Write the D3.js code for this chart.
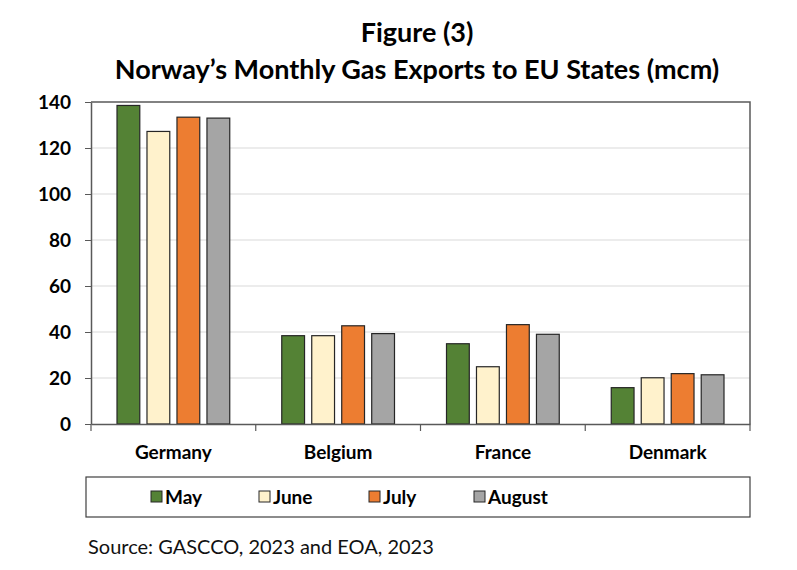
<!DOCTYPE html>
<html>
<head>
<meta charset="utf-8">
<script src="https://cdn.jsdelivr.net/npm/d3@7"></script>
<style>
  body { margin: 0; background: #fff; }
  text { font-family: Lato, "Open Sans", sans-serif; }
</style>
</head>
<body>
<div id="container"></div>
<script>
/* DATA */
const countries = ["Germany", "Belgium", "France", "Denmark"];
const months = ["May", "June", "July", "August"];
const may = [138.5, 38.4, 34.9, 15.8];
const june = [127.2, 38.4, 24.9, 20.1];
const july = [133.4, 42.7, 43.2, 21.9];
const august = [133.0, 39.3, 39.0, 21.4];
const yTicks = [0, 20, 40, 60, 80, 100, 120, 140];
const colors = ["#548235", "#FFF2CC", "#ED7D31", "#A5A5A5"];

/* CONSTANTS */
const width = 797, height = 570,
margin = { top: 102, bottom: 146, left: 91, right: 47 };

const series = [may, june, july, august];
const rows = countries.map((c, i) => ({ country: c, values: series.map(s => s[i]) }));

const svg = d3.select("#container")
 .append("svg")
 .attr("width", width)
 .attr("height", height);

// TITLE
svg.append("text")
 .attr("x", 417).attr("y", 42)
 .attr("text-anchor", "middle")
 .attr("font-size", 27).attr("font-weight", "bold")
 .text("Figure (3)");
svg.append("text")
 .attr("x", 417).attr("y", 79)
 .attr("text-anchor", "middle")
 .attr("font-size", 27).attr("font-weight", "bold")
 .text("Norway’s Monthly Gas Exports to EU States (mcm)");

// SCALES
const x0 = d3.scaleBand()
 .domain(countries)
 .range([margin.left, width - margin.right]);

const x1 = d3.scaleBand()
 .domain(months)
 .range([26, x0.bandwidth() - 26])
 .paddingInner(0.24)
 .paddingOuter(0);

const y = d3.scaleLinear()
 .domain([0, 140])
 .range([height - margin.bottom, margin.top]);

// GRIDLINES
svg.append("g")
 .selectAll("line")
 .data(yTicks.filter(d => d > 0 && d < 140))
 .join("line")
 .attr("x1", margin.left).attr("x2", width - margin.right)
 .attr("y1", d => y(d)).attr("y2", d => y(d))
 .attr("stroke", "#d9d9d9").attr("stroke-width", 1);

// plot frame (top and right)
svg.append("path")
 .attr("d", `M${margin.left},${y(140)}H${width - margin.right}V${y(0)}`)
 .attr("fill", "none").attr("stroke", "#595959").attr("stroke-width", 1.5);

// BARS
svg.append("g")
 .selectAll("g")
 .data(rows)
 .join("g")
 .attr("transform", d => `translate(${x0(d.country)},0)`)
 .selectAll("rect")
 .data(d => d.values.map((v, i) => ({ month: months[i], value: v, i })))
 .join("rect")
 .attr("x", d => x1(d.month))
 .attr("y", d => y(d.value))
 .attr("width", x1.bandwidth())
 .attr("height", d => y(0) - y(d.value))
 .attr("fill", d => colors[d.i])
 .attr("stroke", "#262626").attr("stroke-width", 1.2);

// Y AXIS
const yAxis = svg.append("g")
 .attr("transform", `translate(${margin.left},0)`)
 .call(d3.axisLeft(y).tickValues(yTicks).tickSize(6).tickSizeOuter(0));
yAxis.select(".domain").attr("stroke", "#595959").attr("stroke-width", 1.5);
yAxis.selectAll(".tick line").attr("stroke", "#595959");
yAxis.selectAll("text")
 .attr("font-size", 19).attr("font-weight", "bold").attr("fill", "#000")
 .attr("font-family", "Lato, sans-serif").attr("x", -20);

// X AXIS
const xAxis = svg.append("g")
 .attr("transform", `translate(0,${y(0)})`)
 .call(d3.axisBottom(x0).tickSize(0).tickSizeOuter(0));
xAxis.select(".domain").attr("stroke", "#595959").attr("stroke-width", 1.5);
xAxis.selectAll("text")
 .attr("font-size", 19).attr("font-weight", "bold").attr("fill", "#000")
 .attr("font-family", "Lato, sans-serif").attr("y", 0).attr("dy", 35);
// category separator ticks
const seps = countries.map(c => x0(c)).concat([width - margin.right]);
xAxis.selectAll("line.sep")
 .data(seps)
 .join("line")
 .attr("class", "sep")
 .attr("x1", d => d).attr("x2", d => d)
 .attr("y1", 0).attr("y2", 7)
 .attr("stroke", "#595959").attr("stroke-width", 1.2);

// LEGEND
svg.append("rect")
 .attr("x", 86).attr("y", 477)
 .attr("width", 664).attr("height", 40)
 .attr("fill", "#fff").attr("stroke", "#404040").attr("stroke-width", 1.2);

const legendX = [151, 259, 369, 474];
const legend = svg.append("g")
 .selectAll("g")
 .data(months)
 .join("g")
 .attr("transform", (d, i) => `translate(${legendX[i]},497)`);
legend.append("rect")
 .attr("x", 0).attr("y", -6)
 .attr("width", 11).attr("height", 11)
 .attr("fill", (d, i) => colors[i])
 .attr("stroke", "#262626").attr("stroke-width", 1);
legend.append("text")
 .attr("x", 14).attr("y", 7)
 .attr("font-size", 19).attr("font-weight", "bold")
 .text(d => d);

// SOURCE
svg.append("text")
 .attr("x", 88).attr("y", 554)
 .attr("font-size", 20)
 .attr("fill", "#111")
 .text("Source: GASCCO, 2023 and EOA, 2023");
</script>
</body>
</html>
